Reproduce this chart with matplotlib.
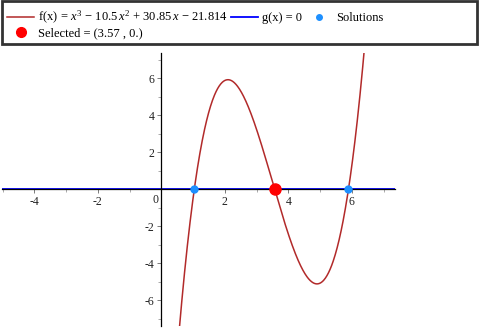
import numpy as np
import matplotlib
matplotlib.use("Agg")
import matplotlib.pyplot as plt
from matplotlib.lines import Line2D
from matplotlib.patches import Rectangle

plt.rcParams["font.family"] = ["Liberation Serif", "DejaVu Serif"]
plt.rcParams["mathtext.fontset"] = "custom"
plt.rcParams["mathtext.rm"] = "Liberation Serif"
plt.rcParams["mathtext.it"] = "Liberation Serif:italic"
plt.rcParams["axes.unicode_minus"] = False

# f(x) coefficients, highest power first
coeffs = [1.0, -10.5, 30.85, -21.814]
solutions_x = [1.037, 3.57, 5.893]
solutions_y = [0.0, 0.0, 0.0]
selected_x = [3.57]
selected_y = [0.0]
x_ticks = [-4, -2, 2, 4, 6]
y_ticks = [-6, -4, -2, 2, 4, 6]

curve_color = "#b22a2a"
x_min, x_max = -5.02, 7.36
y_min, y_max = -7.38, 7.37

fig = plt.figure(figsize=(4.81, 3.31), dpi=100)
ax = fig.add_axes([2 / 481, 5 / 331, 393 / 481, 273 / 331])

xs = np.linspace(x_min, x_max, 1000)
ax.plot(xs, np.polyval(coeffs, xs), color=curve_color, lw=1.1, zorder=3)
ax.axhline(0, color="#0000ff", lw=1.3, zorder=2)
ax.plot(solutions_x, solutions_y, "o", color="#1e90ff", ms=5, zorder=4)
ax.plot(selected_x, selected_y, "o", color="#ff0000", ms=8, zorder=5)

ax.set_xlim(x_min, x_max)
ax.set_ylim(y_min, y_max)
ax.spines["left"].set_position(("data", 0))
ax.spines["bottom"].set_position(("data", 0))
ax.spines["top"].set_visible(False)
ax.spines["right"].set_visible(False)
for s in ("left", "bottom"):
    ax.spines[s].set_linewidth(0.9)
    ax.spines[s].set_zorder(2.5)

ax.set_xticks(x_ticks)
ax.set_yticks(y_ticks)
ax.set_xticks([-5, -3, -1, 1, 3, 5, 7], minor=True)
ax.set_yticks([-7, -5, -3, -1, 1, 3, 5, 7], minor=True)
ax.tick_params(which="major", direction="out", length=3, width=0.6, color="#666666",
               labelsize=8.5, labelcolor="#222222", pad=2)
ax.tick_params(which="minor", direction="out", length=2, width=0.5, color="#888888")
ax.annotate("0", (0, 0), xytext=(-2, -3), textcoords="offset points",
            ha="right", va="top", fontsize=8.5, color="#222222")

handles = [
    Line2D([], [], color=curve_color, lw=1.1,
           label=r"$\mathrm{f(x)}\,=\,x^3\,-\,10.5\,x^2\,+\,30.85\,x\,-\,21.814$"),
    Line2D([], [], ls="none", marker="o", color="#ff0000", ms=7,
           label="Selected = (3.57 , 0.)"),
    Line2D([], [], color="#0000ff", lw=1.3, label="g(x) = 0"),
    Line2D([], [], ls="none", marker="o", color="#1e90ff", ms=4, label="Solutions"),
]
fig.legend(handles=handles, ncol=3, loc="upper left", bbox_to_anchor=(1 / 481, 1 - 3 / 331),
           frameon=False, fontsize=9, handlelength=2.15, handletextpad=0.3,
           columnspacing=0.3, borderpad=0, labelspacing=0.05)
fig.patches.append(Rectangle((2 / 481, 287 / 331), 475 / 481, 43 / 331,
                             transform=fig.transFigure, fill=False,
                             edgecolor="#333333", lw=2))

fig.savefig("out.png", dpi=100)
